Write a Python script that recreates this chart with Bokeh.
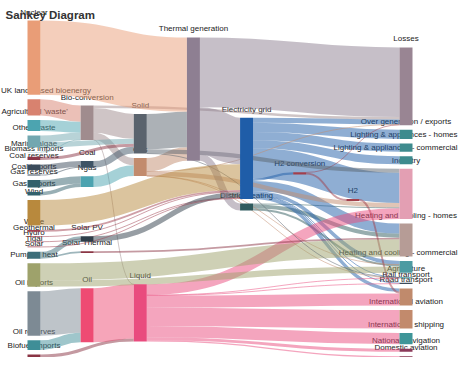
from bokeh.plotting import figure
from bokeh.models import Range1d, Label, ColumnDataSource
from bokeh.embed import file_html
from bokeh.resources import INLINE

# ---------------- data ----------------
link_source = [
    "Agricultural 'waste'", "Bio-conversion", "Bio-conversion", "Bio-conversion", "Bio-conversion",
    "Biofuel imports", "Biomass imports", "Coal imports", "Coal reserves", "Coal",
    "District heating", "District heating", "District heating",
    "Electricity grid", "Electricity grid", "Electricity grid", "Electricity grid", "Electricity grid",
    "Electricity grid", "Electricity grid", "Electricity grid", "Electricity grid", "Electricity grid",
    "Electricity grid",
    "Gas imports", "Gas reserves", "Gas", "Gas", "Gas", "Gas", "Gas",
    "Geothermal", "H2 conversion", "H2 conversion", "H2", "Hydro",
    "Liquid", "Liquid", "Liquid", "Liquid", "Liquid", "Liquid", "Liquid", "Liquid",
    "Marine algae", "Ngas", "Nuclear", "Oil imports", "Oil reserves", "Oil",
    "Other waste", "Other waste", "Pumped heat", "Pumped heat", "Solar PV", "Solar Thermal",
    "Solar", "Solar", "Solid", "Solid", "Solid",
    "Thermal generation", "Thermal generation", "Thermal generation",
    "Tidal", "UK land based bioenergy", "Wave", "Wind",
]
link_target = [
    "Bio-conversion", "Liquid", "Losses", "Solid", "Gas",
    "Liquid", "Solid", "Coal", "Coal", "Solid",
    "Industry", "Heating and cooling - commercial", "Heating and cooling - homes",
    "Over generation / exports", "Heating and cooling - homes", "H2 conversion", "Industry",
    "Road transport", "Agriculture", "Heating and cooling - commercial", "Losses",
    "Rail transport", "Lighting & appliances - commercial", "Lighting & appliances - homes",
    "Ngas", "Ngas", "Heating and cooling - commercial", "Losses", "Thermal generation",
    "Agriculture", "Industry",
    "Electricity grid", "H2", "Losses", "Road transport", "Electricity grid",
    "Industry", "International shipping", "Road transport", "Domestic aviation",
    "International aviation", "Agriculture", "National navigation", "Rail transport",
    "Bio-conversion", "Gas", "Thermal generation", "Oil", "Oil", "Liquid",
    "Solid", "Bio-conversion", "Heating and cooling - homes", "Heating and cooling - commercial",
    "Electricity grid", "Heating and cooling - homes",
    "Solar Thermal", "Solar PV", "Agriculture", "Thermal generation", "Industry",
    "Electricity grid", "Losses", "District heating",
    "Electricity grid", "Bio-conversion", "Electricity grid", "Electricity grid",
]
link_value = [
    124.729, 0.597, 26.862, 280.322, 81.144,
    35, 35, 11.606, 63.965, 75.571,
    10.639, 22.505, 46.184,
    104.453, 113.726, 27.14, 342.165, 37.797,
    4.412, 40.858, 56.691, 7.863, 90.008,
    93.494,
    40.719, 82.233, 0.129, 1.401, 151.891, 2.096, 48.58,
    7.013, 20.897, 6.242, 20.897, 6.995,
    121.066, 128.69, 135.835, 14.458, 206.267, 3.64, 33.218, 4.413,
    4.375, 122.952, 839.978, 504.287, 107.703, 611.99,
    56.587, 77.81, 193.026, 70.672, 59.901, 19.263,
    19.263, 59.901, 0.882, 400.12, 46.477,
    525.531, 787.129, 79.329,
    9.452, 182.01, 19.013, 289.366,
]

node_colors = {
    "Nuclear": "#E99D77", "UK land based bioenergy": "#D8826F",
    "Agricultural 'waste'": "#4CA4B0", "Other waste": "#72A7B0",
    "Marine algae": "#72A7B0", "Biomass imports": "#8B3646",
    "Coal reserves": "#3B4B5B", "Coal imports": "#3B4B5B",
    "Gas reserves": "#31606C", "Gas imports": "#31606C",
    "Wind": "#B8893D", "Wave": "#A0404F", "Geothermal": "#A0404F",
    "Hydro": "#A0404F", "Tidal": "#A0404F", "Solar": "#3D6E79",
    "Pumped heat": "#9EA26B", "Oil imports": "#7D8A94",
    "Oil reserves": "#3F8E97", "Biofuel imports": "#8A3444",
    "Bio-conversion": "#A08C8E", "Coal": "#3E5466", "Ngas": "#4CA3B0",
    "Solar PV": "#2F3D49", "Solar Thermal": "#8B3645", "Oil": "#EE4B73",
    "Solid": "#5A636D", "Gas": "#C28B6D", "Liquid": "#E94B7E",
    "Thermal generation": "#8E7F92", "Electricity grid": "#1F5DA8",
    "District heating": "#2F5B5E", "H2 conversion": "#A23F4C", "H2": "#A23F4C",
    "Losses": "#998593", "Over generation / exports": "#3E8B8E",
    "Lighting & appliances - homes": "#3E8B8E",
    "Lighting & appliances - commercial": "#3E8B8E",
    "Industry": "#E39FB3", "Heating and cooling - homes": "#B69C96",
    "Heating and cooling - commercial": "#4D9BA2", "Agriculture": "#4D9BA2",
    "Rail transport": "#3B4B5B", "Road transport": "#C08A6C",
    "International aviation": "#C28A6C", "International shipping": "#3E9598",
    "National navigation": "#8B3A5A", "Domestic aviation": "#8A3A55",
}

# ---------------- classic d3 sankey plugin layout ----------------
W, H = 458, 357
X0, X1, Y0, Y1 = 27.0, 412.0, 20.0, 357.0
NODE_W, PAD, ITER = 13.0, 4.5, 32


def sankey(src, tgt, val):
    names = []
    for s, t in zip(src, tgt):
        for n in (s, t):
            if n not in names:
                names.append(n)
    nodes = [dict(name=n, index=i, sl=[], tl=[]) for i, n in enumerate(names)]
    idx = {n: i for i, n in enumerate(names)}
    links = []
    for i, (s, t, v) in enumerate(zip(src, tgt, val)):
        L = dict(index=i, source=nodes[idx[s]], target=nodes[idx[t]], value=v)
        links.append(L)
        L["source"]["sl"].append(L)
        L["target"]["tl"].append(L)
    for n in nodes:
        n["value"] = max(sum(l["value"] for l in n["sl"]), sum(l["value"] for l in n["tl"]))
    remaining = list(range(len(nodes)))
    x = 0
    while remaining:
        nxt = []
        for i in remaining:
            nodes[i]["bx"] = x
            for l in nodes[i]["sl"]:
                j = l["target"]["index"]
                if j not in nxt:
                    nxt.append(j)
        remaining = nxt
        x += 1
    for n in nodes:
        if not n["sl"]:
            n["bx"] = x - 1
    kx = (X1 - X0 - NODE_W) / (x - 1)
    for n in nodes:
        n["x0"] = X0 + n["bx"] * kx
        n["x1"] = n["x0"] + NODE_W
    columns = [[n for n in nodes if n["bx"] == k] for k in range(x)]
    HH = Y1 - Y0
    ky = min((HH - (len(c) - 1) * PAD) / sum(n["value"] for n in c) for c in columns)
    for c in columns:
        for i, n in enumerate(c):
            n["y"] = float(i)
            n["dy"] = n["value"] * ky
    for l in links:
        l["dy"] = l["value"] * ky

    def center(n):
        return n["y"] + n["dy"] / 2

    def resolve():
        for c in columns:
            c.sort(key=lambda n: n["y"])
            y0 = 0.0
            node = None
            for node in c:
                d = y0 - node["y"]
                if d > 0:
                    node["y"] += d
                y0 = node["y"] + node["dy"] + PAD
            d = y0 - PAD - HH
            if d > 0:
                node["y"] -= d
                y0 = node["y"]
                for i in range(len(c) - 2, -1, -1):
                    nd = c[i]
                    d = nd["y"] + nd["dy"] + PAD - y0
                    if d > 0:
                        nd["y"] -= d
                    y0 = nd["y"]

    def relax_lr(alpha):
        for c in columns:
            for n in c:
                if n["tl"]:
                    y = sum(center(l["source"]) * l["value"] for l in n["tl"]) / sum(l["value"] for l in n["tl"])
                    n["y"] += (y - center(n)) * alpha

    def relax_rl(alpha):
        for c in reversed(columns):
            for n in c:
                if n["sl"]:
                    y = sum(center(l["target"]) * l["value"] for l in n["sl"]) / sum(l["value"] for l in n["sl"])
                    n["y"] += (y - center(n)) * alpha

    resolve()
    alpha = 1.0
    for _ in range(ITER):
        alpha *= 0.99
        relax_rl(alpha)
        resolve()
        relax_lr(alpha)
        resolve()

    for n in nodes:
        n["sl"].sort(key=lambda l: l["target"]["y"])
        n["tl"].sort(key=lambda l: l["source"]["y"])
    for n in nodes:
        sy = ty = 0.0
        for l in n["sl"]:
            l["sy"] = sy
            sy += l["dy"]
        for l in n["tl"]:
            l["ty"] = ty
            ty += l["dy"]
    for n in nodes:
        n["y0"] = Y0 + n["y"]
        n["y1"] = n["y0"] + n["dy"]
    for l in links:
        l["y0"] = l["source"]["y0"] + l["sy"] + l["dy"] / 2
        l["y1"] = l["target"]["y0"] + l["ty"] + l["dy"] / 2
    return nodes, links


nodes, links = sankey(link_source, link_target, link_value)

# ---------------- drawing ----------------
p = figure(width=W, height=H, x_range=Range1d(0, W), y_range=Range1d(H, 0),
           output_backend="svg", toolbar_location=None, min_border=0)
p.axis.visible = False
p.grid.visible = False
p.outline_line_color = None
p.background_fill_color = "white"
p.border_fill_color = "white"

FS = 8.0
_AW = {" ": 278, "'": 191, "&": 667, "-": 333, "/": 278, "2": 556, "A": 667, "B": 667,
       "C": 722, "D": 722, "E": 667, "G": 778, "H": 722, "I": 278, "L": 556, "M": 833,
       "N": 722, "O": 778, "P": 667, "R": 722, "S": 667, "T": 611, "U": 722, "W": 944,
       "c": 500, "f": 278, "i": 222, "j": 222, "k": 500, "l": 222, "m": 833, "r": 333,
       "s": 500, "t": 278, "v": 500, "w": 722, "x": 500, "y": 500, "z": 500}


def text_w(s):
    return sum(_AW.get(ch, 556) for ch in s) / 1000.0 * FS


lab_x, lab_y, lab_t = [], [], []
for n in nodes:
    cx = (n["x0"] + n["x1"]) / 2
    half = text_w(n["name"]) / 2
    cx = max(cx, half + 1)
    cx = min(cx, W - 1 - half)
    lab_x.append(cx)
    lab_y.append(n["y0"] - 4)
    lab_t.append(n["name"])
lab = ColumnDataSource(dict(x=lab_x, y=lab_y, t=lab_t))
p.text(x="x", y="y", text="t", source=lab, text_align="center",
       text_baseline="bottom", text_font_size="8px",
       text_font={"value": "Liberation Sans"}, text_color="#1a1a1a")

ls = ColumnDataSource(dict(
    x0=[l["source"]["x1"] for l in links],
    y0=[l["y0"] for l in links],
    x1=[l["target"]["x0"] for l in links],
    y1=[l["y1"] for l in links],
    cx=[(l["source"]["x1"] + l["target"]["x0"]) / 2 for l in links],
    w=[max(1.0, l["dy"]) for l in links],
    c=[node_colors.get(l["source"]["name"], "#888") for l in links],
))
p.bezier(x0="x0", y0="y0", x1="x1", y1="y1", cx0="cx", cy0="y0", cx1="cx", cy1="y1",
         source=ls, line_color="c", line_width="w", line_alpha=0.5)

ns = ColumnDataSource(dict(
    l=[n["x0"] for n in nodes], r=[n["x1"] for n in nodes],
    t=[n["y0"] for n in nodes], b=[n["y1"] for n in nodes],
    c=[node_colors.get(n["name"], "#888") for n in nodes],
))
p.quad(left="l", right="r", top="t", bottom="b", source=ns, fill_color="c", line_color=None)

p.add_layout(Label(x=5, y=H - 14, x_units="screen", y_units="screen",
                   text="Sankey Diagram", text_font="Liberation Sans",
                   text_font_size="11.5px", text_font_style="bold",
                   text_color="#333333", text_baseline="middle"))

open("out.html", "w").write(file_html(p, INLINE))
